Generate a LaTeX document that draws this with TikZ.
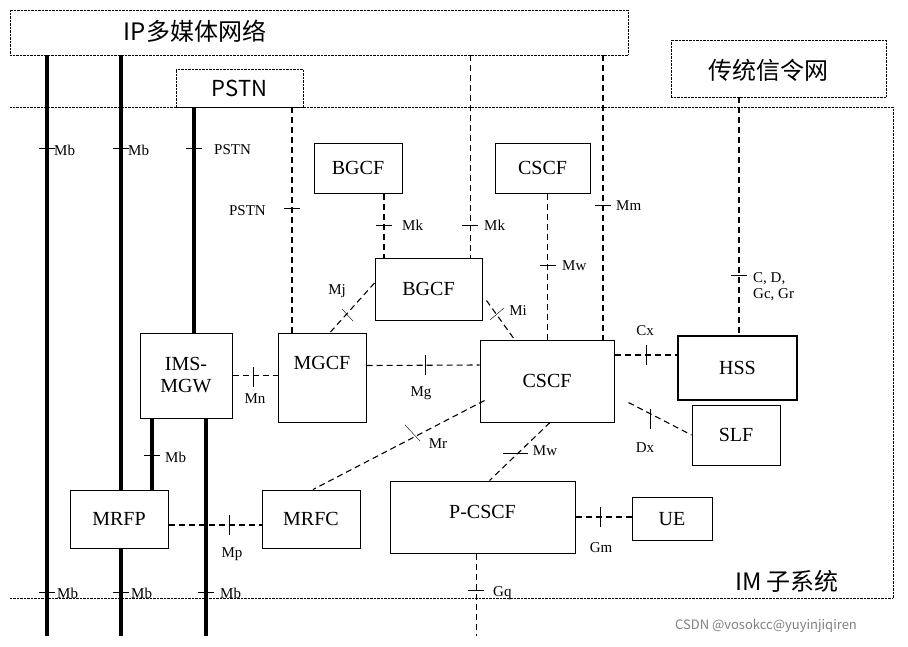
\documentclass[tikz,border=0pt]{standalone}
\usepackage{fontspec}
\setmainfont{Liberation Serif}
\newfontfamily\cjk{Noto Sans CJK SC}
\usetikzlibrary{positioning,calc}
\tikzset{
  nf/.style={draw, line width=1pt, inner sep=0pt, font=\fontsize{20}{22}\selectfont},
  lbl/.style={font=\fontsize{15}{16}\selectfont, inner sep=1pt},
  cloud/.style={draw, densely dotted, inner sep=0pt},
  thickbus/.style={line width=4.5pt},
  link/.style={line width=1.1pt, dash pattern=on 6pt off 4pt},
}
\newcommand{\tickh}[2]{\draw (#1-8,#2) -- (#1+8,#2);}
\newcommand{\tickv}[2]{\draw (#1,#2-10) -- (#1,#2+10);}
\begin{document}
\begin{tikzpicture}[x=1pt, y=-1pt]
  \useasboundingbox (0,0) rectangle (908,646);
  % outer networks
  \node[cloud, minimum width=618pt, minimum height=45pt] (ip) at (319,32.5) {};
  \node[font=\cjk\fontsize{24}{26}\selectfont] at (195,31) {IP多媒体网络};
  \node[cloud, minimum width=215pt, minimum height=57pt] (ss) at (778.5,68.5) {};
  \node[font=\cjk\fontsize{24}{26}\selectfont] at (768,70) {传统信令网};
  \node[cloud, minimum width=127pt, minimum height=38pt,
        font=\cjk\fontsize{22}{24}\selectfont] (pstn) at (239.5,88) {PSTN};
  \draw[densely dotted] (10,107) -- (893,107) -- (893,598) -- (10,598);
  \node[font=\cjk\fontsize{24}{26}\selectfont] at (787,581) {IM 子系统};
  \node[font=\cjk\fontsize{13}{14}\selectfont, text=gray] at (766,626) {CSDN @vosokcc@yuyinjiqiren};
  % functional nodes
  \node[nf, minimum width=88pt, minimum height=50pt] (bgcfa) at (358,168) {BGCF};
  \node[nf, minimum width=95pt, minimum height=50pt] (cscfa) at (542.5,168) {CSCF};
  \node[nf, minimum width=107pt, minimum height=62pt] (bgcfb) at (428.5,289) {BGCF};
  \node[nf, minimum width=92pt, minimum height=85pt, align=center] (mgw) at (186,375.5) {IMS-\\MGW};
  \node[nf, minimum width=88pt, minimum height=89pt, text depth=30pt] (mgcf) at (322,377.5) {MGCF};
  \node[nf, minimum width=134pt, minimum height=82pt] (cscf) at (547,381) {CSCF};
  \node[nf, line width=2pt, minimum width=119pt, minimum height=64pt] (hss) at (737.5,368) {HSS};
  \node[nf, minimum width=88pt, minimum height=60pt] (slf) at (736,435) {SLF};
  \node[nf, minimum width=98pt, minimum height=58pt] (mrfp) at (119,519) {MRFP};
  \node[nf, minimum width=98pt, minimum height=58pt] (mrfc) at (311,519) {MRFC};
  \node[nf, minimum width=185pt, minimum height=72pt, text depth=10pt] (pcscf) at (482.5,517) {P-CSCF};
  \node[nf, minimum width=80pt, minimum height=43pt, text depth=-2pt] (ue) at (672,518.5) {UE};
  % free ends
  \coordinate (b1t) at (47,55);   \coordinate (b1b) at (47,636);
  \coordinate (b2t) at (121,55);  \coordinate (b2b) at (121,636);
  \coordinate (b4b) at (206,636);
  \coordinate (gqb) at (476,636);
  % bearer lines
  \draw[thickbus] (b1t) -- (b1b);
  \draw[thickbus] (b2t) -- (mrfp.north -| b2t);
  \draw[thickbus] (mrfp.south -| b2t) -- (b2b);
  \draw[thickbus] ($(pstn.south -| mgw.north)+(8,0)$) -- ($(mgw.north)+(8,0)$);
  \draw[thickbus] ($(mgw.south)+(-34,0)$) coordinate (p2) -- (p2 |- mrfp.north);
  \draw[thickbus] ($(mgw.south)+(20,0)$) coordinate (p3) -- (p3 |- b4b);
  % signalling links
  \draw[link] ($(pstn.south -| mgcf.north)+(-30,0)$) coordinate (s1) -- (s1 |- mgcf.north);
  \draw[link] ($(bgcfa.south)+(26,0)$) coordinate (s2) -- (s2 |- bgcfb.north);
  \draw[link] ($(ip.south -| bgcfb.north east)+(-12,0)$) coordinate (s3) -- (s3 |- bgcfb.north);
  \draw[link] ($(cscfa.south)+(5,0)$) coordinate (s4) -- (s4 |- cscf.north);
  \draw[link] ($(ip.south -| cscf.north)+(56,0)$) coordinate (s5) -- (s5 |- cscf.north);
  \draw[link] ($(ss.south -| hss.north)+(1.5,0)$) coordinate (s6) -- (s6 |- hss.north);
  \draw[link] ($(bgcfb.west)+(0,-6)$) -- ($(mgcf.north)+(8,0)$);
  \draw[link] ($(bgcfb.south east)+(4,-20)$) -- ($(cscf.north west)+(35,0)$);
  \draw[link] (mgw.east) -- (mgw.east -| mgcf.west);
  \draw[link] ($(mgcf.east)+(0,-12)$) -- ($(cscf.west)+(0,-16)$);
  \draw[link] ($(cscf.east)+(0,-26)$) -- (hss.west |- 0,355);
  \draw[link] ($(cscf.south east)+(14,-20)$) -- (slf.west);
  \draw[link] ($(cscf.south west)+(5,-22)$) -- ($(mrfc.north)+(2,0)$);
  \draw[link] ($(cscf.south)+(3,0)$) -- ($(pcscf.north)+(7,0)$);
  \draw[link] ($(mrfp.east)+(0,6)$) -- (mrfc.west |- 0,525);
  \draw[link] (pcscf.east) -- (ue.west |- pcscf.east);
  \draw[link] ($(pcscf.south)+(-6,0)$) coordinate (s7) -- (s7 |- gqb);
  % reference points
  \tickh{47}{148} \node[lbl, right] at (53,150) {Mb};
  \tickh{121}{148} \node[lbl, right] at (127,150) {Mb};
  \tickh{194}{148} \node[lbl, right] at (213,150) {PSTN};
  \tickh{292}{208} \node[lbl, left] at (267,211) {PSTN};
  \tickh{384}{225} \node[lbl, right] at (401,225) {Mk};
  \tickh{470}{225} \node[lbl, right] at (483,225) {Mk};
  \tickh{548}{265} \node[lbl, right] at (561,266) {Mw};
  \tickh{603}{205} \node[lbl, right] at (615,206) {Mm};
  \tickh{739}{275} \node[lbl, right, align=left] at (752,287) {C, D,\\Gc, Gr};
  \draw (342,309) -- (353,321); \node[lbl] at (337,291) {Mj};
  \draw (490,320) -- (504,308); \node[lbl] at (518,311) {Mi};
  \tickv{253}{377} \node[lbl] at (255,399) {Mn};
  \tickv{425}{365} \node[lbl] at (421,393) {Mg};
  \tickv{646}{355} \node[lbl] at (645,331) {Cx};
  \tickv{650}{419} \node[lbl] at (645,448) {Dx};
  \draw (405,425) -- (420,441); \node[lbl] at (438,444) {Mr};
  \draw (503,453) -- (528,453); \node[lbl] at (545,451) {Mw};
  \tickh{152}{455} \node[lbl, right] at (164,457) {Mb};
  \tickv{229}{525} \node[lbl] at (232,554) {Mp};
  \tickv{600}{517} \node[lbl] at (601,548) {Gm};
  \tickh{47}{592} \node[lbl, right] at (56,593) {Mb};
  \tickh{121}{592} \node[lbl, right] at (130,593) {Mb};
  \tickh{206}{592} \node[lbl, right] at (219,593) {Mb};
  \tickh{476}{590} \node[lbl, right] at (492,593) {Gq};
\end{tikzpicture}
\end{document}
